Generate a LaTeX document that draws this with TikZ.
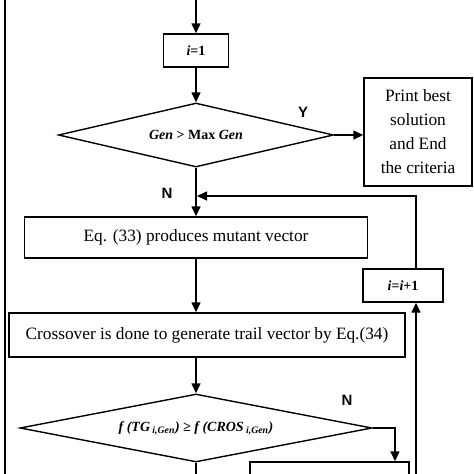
\documentclass[tikz,border=0pt]{standalone}
\usepackage{fontspec}
\setmainfont{Liberation Serif}
\newfontfamily\ynfont{Liberation Sans}
\usepackage{tikz}
\usetikzlibrary{arrows.meta,positioning,shapes.geometric}
\tikzset{
blk/.style={draw,rectangle,inner sep=0pt,font=\fontsize{17.3}{24}\selectfont},
sblk/.style={draw,rectangle,inner sep=0pt,font=\fontsize{14}{16}\selectfont\bfseries},
dec/.style={draw,diamond,aspect=5,inner sep=0pt,font=\fontsize{14}{16}\selectfont\bfseries},
yn/.style={font=\ynfont\fontsize{15}{15}\selectfont\bfseries}
}
\begin{document}
\begin{tikzpicture}[x=1pt,y=-1pt,line width=1.4pt,>={Triangle[length=10pt,width=9pt]}]
\useasboundingbox (0,0) rectangle (474,474);
\clip (0,0) rectangle (474,474);
\coordinate (top) at (196,-5);
\coordinate (ltop) at (5,-5);
\coordinate (lbot) at (5,480);
\coordinate (rbot) at (416,480);
\coordinate (merge) at (197,196);
\coordinate (drop) at (395,0);
\node[sblk,minimum width=65pt,minimum height=33pt] (init) at (196,50.5) {\textit{i}=1};
\node[dec,minimum width=275pt,minimum height=64pt] (dec1) at (196,135) {\textit{Gen} > Max \textit{Gen}};
\node[blk,align=center,minimum width=108pt,minimum height=108pt] (print) at (418,132) {Print best\\solution\\and End\\the criteria};
\node[blk,minimum width=343pt,minimum height=41pt] (eq33) at (196,237.5) {Eq. (33) produces mutant vector};
\node[sblk,minimum width=80pt,minimum height=33pt] (incr) at (403,285.5) {\textit{i}=\textit{i}+1};
\node[blk,minimum width=396pt,minimum height=44pt] (cross) at (207,335) {Crossover is done to generate trail vector by Eq.(34)};
\node[dec,minimum width=352pt,minimum height=68pt] (dec2) at (196,428) {\textit{f (TG\,\textsubscript{i,Gen}) ≥ f (CROS\,\textsubscript{i,Gen})}};
\node[blk,minimum width=159pt,minimum height=60pt] (rej) at (329.5,492) {};
\node[yn] (yes) at (303,112) {Y};
\node[yn] (no1) at (167,193) {N};
\node[yn] (no2) at (347,400) {N};
\draw (ltop) -- (lbot);
\path[->]
(top) edge (init)
(init) edge (dec1)
(dec1.east) edge (dec1.east -| print.west)
(dec1) edge (eq33)
(eq33) edge (eq33 |- cross.north)
(cross.south -| dec2.north) edge (dec2)
(rbot) edge (rbot |- incr.south);
\draw[->] (incr.north -| rbot) |- (merge);
\draw[->] (dec2.east) -| (rej.north -| drop);
\draw (dec2.south) -- (dec2.south |- lbot);
\end{tikzpicture}
\end{document}
